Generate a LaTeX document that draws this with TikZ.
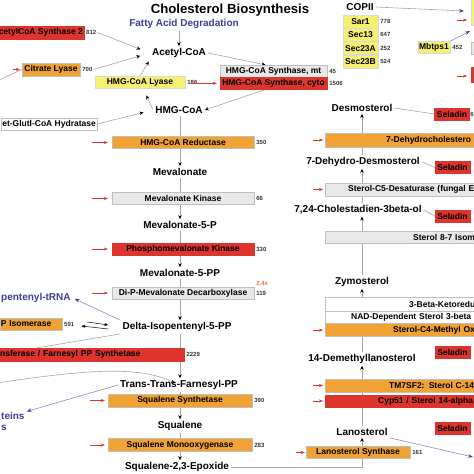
\documentclass[tikz,border=0pt]{standalone}
\usepackage{fontspec}
\setmainfont{Liberation Sans}
\usetikzlibrary{positioning,arrows.meta,backgrounds}
\definecolor{enzRed}{RGB}{221,52,46}
\definecolor{enzOrange}{RGB}{240,162,52}
\definecolor{enzYellow}{RGB}{246,240,112}
\definecolor{enzGray}{RGB}{232,232,232}
\definecolor{pathBlue}{RGB}{62,60,150}
\definecolor{lineGray}{RGB}{165,165,165}
\definecolor{foldOrange}{RGB}{226,120,60}
\begin{document}
\begin{tikzpicture}[x=1pt,y=-1pt]
        \tikzstyle{metaNode}=[font=\fontsize{10}{11}\selectfont\bfseries, inner sep=2pt]
        \tikzstyle{enzBox}=[font=\fontsize{8.5}{10}\selectfont\bfseries, minimum height=12pt, inner sep=1pt, line width=0.3pt]
        \tikzstyle{redBox}=[enzBox, fill=enzRed, draw=enzRed]
        \tikzstyle{orangeBox}=[enzBox, fill=enzOrange, draw=black!25]
        \tikzstyle{yellowBox}=[enzBox, fill=enzYellow, draw=black!15]
        \tikzstyle{grayBox}=[enzBox, fill=enzGray, draw=black!25]
        \tikzstyle{whiteBox}=[enzBox, fill=white, draw=black!25]
        \tikzstyle{countLabel}=[font=\fontsize{6}{7}\selectfont\bfseries, text=black!80, inner sep=1pt]
        \tikzstyle{mainCol}=[minimum width=142pt]
        \tikzstyle{rightCol}=[anchor=west, minimum width=170pt, text width=166pt, align=left]
        \tikzstyle{pathFlow}=[draw=lineGray, line width=0.6pt, -{Stealth[length=4pt,width=3.5pt,color=black]}]
        \tikzstyle{sideFlow}=[draw=lineGray, line width=0.6pt]
        \tikzstyle{blueFlow}=[draw=pathBlue!60, line width=0.6pt, -{Stealth[length=5pt,width=3.5pt,color=pathBlue]}]
        \tikzstyle{upReg}=[draw=enzRed, line width=0.5pt, -{Stealth[length=4pt,width=3pt]}]
    \useasboundingbox (0,0) rectangle (474,474);

    % left column
    \node[font=\fontsize{13.2}{15}\selectfont\bfseries] (title) at (230,10) {Cholesterol Biosynthesis};
    \node[metaNode, text=pathBlue] (fad) at (184,24) {Fatty Acid Degradation};
    \node[metaNode] (acetylcoa) at (179,53) {Acetyl-CoA};
    \node[metaNode] (hmgcoa) at (179,110) {HMG-CoA};
    \node[metaNode] (mev) at (180,172) {Mevalonate};
    \node[metaNode] (mev5p) at (180,225) {Mevalonate-5-P};
    \node[metaNode] (mev5pp) at (180,273) {Mevalonate-5-PP};
    \node[metaNode] (ipp) at (177,327) {Delta-Isopentenyl-5-PP};
    \node[metaNode] (fpp) at (179,385) {Trans-Trans-Farnesyl-PP};
    \node[metaNode] (squal) at (180,426) {Squalene};
    \node[metaNode] (epox) at (177,467) {Squalene-2,3-Epoxide};
    \node[metaNode, text=pathBlue, anchor=west] (trna) at (-1,298) {pentenyl-tRNA};
    \node[metaNode, text=pathBlue, anchor=north west, align=left, inner sep=0pt] (prot) at (1,412) {teins\\s};
    \coordinate (citrate) at (-3,81);
    \coordinate (gpp) at (-3,383);

    \node[redBox, anchor=east, minimum height=13pt] (acs2) at (84,32.5) {cetylCoA Synthase 2};
    \node[orangeBox, minimum width=58pt, minimum height=13pt] (citl) at (51,69.5) {Citrate Lyase};
    \node[yellowBox, minimum width=90pt] (hmgcl) at (140,82) {HMG-CoA Lyase};
    \node[grayBox, minimum width=107pt] (hmgcsmt) at (273.5,71) {HMG-CoA Synthase, mt};
    \node[redBox, minimum width=107pt, below=0pt of hmgcsmt] (hmgcscy) {HMG-CoA Synthase, cyto};
    \node[whiteBox, anchor=east] (hmgch) at (97,124) {et-Glutl-CoA Hydratase};
    \node[orangeBox, mainCol] (hmgcr) at (183,142.5) {HMG-CoA Reductase};
    \node[grayBox, mainCol] (mvk) at (183,198.5) {Mevalonate Kinase};
    \node[redBox, mainCol] (pmvk) at (183,249) {Phosphomevalonate Kinase};
    \node[grayBox, mainCol] (mvd) at (183,293) {Di-P-Mevalonate Decarboxylase};
    \node[orangeBox, anchor=east, text width=60pt, align=left] (idi) at (62,324) {P Isomerase};
    \node[redBox, anchor=west, text width=183pt, align=left, minimum height=13pt] (fpps) at (-1,354.5) {nsferase / Farnesyl PP Synthetase};
    \node[orangeBox, minimum width=144pt, minimum height=13pt] (sqs) at (180,400.5) {Squalene Synthetase};
    \node[orangeBox, minimum width=144pt, minimum height=13pt] (sqle) at (180,445) {Squalene Monooxygenase};

    \node[countLabel, right=1pt of acs2] (acs2N) {812};
    \node[countLabel, right=1pt of citl] (citlN) {700};
    \node[countLabel, right=1pt of hmgcl] (hmgclN) {186};
    \node[countLabel, right=1pt of hmgcsmt] (hmgcsmtN) {45};
    \node[countLabel, right=1pt of hmgcscy] (hmgcscyN) {1506};
    \node[countLabel, right=1pt of hmgcr] (hmgcrN) {350};
    \node[countLabel, right=1pt of mvk] (mvkN) {66};
    \node[countLabel, right=1pt of pmvk] (pmvkN) {330};
    \node[countLabel, right=1pt of mvd] (mvdN) {119};
    \node[countLabel, text=foldOrange, anchor=south west] (mvdFold) at ([yshift=3pt]mvdN.north west) {2.4x};
    \node[countLabel, right=1pt of idi] (idiN) {591};
    \node[countLabel, right=1pt of fpps] (fppsN) {2229};
    \node[countLabel, right=1pt of sqs] (sqsN) {390};
    \node[countLabel, right=1pt of sqle] (sqleN) {283};

    % right column
    \node[metaNode] (copii) at (360,7) {COPII};
    \node[yellowBox, minimum width=35pt, minimum height=13pt] (sar1) at (360.5,21.5) {Sar1};
    \node[yellowBox, minimum width=35pt, minimum height=13pt, below=0pt of sar1] (sec13) {Sec13};
    \node[yellowBox, minimum width=35pt, minimum height=13pt, below=0pt of sec13] (sec23a) {Sec23A};
    \node[yellowBox, minimum width=35pt, minimum height=13pt, below=0pt of sec23a] (sec23b) {Sec23B};
    \node[yellowBox, minimum width=32pt] (mbtps1) at (434,47.5) {Mbtps1};
    \node[yellowBox, anchor=west, minimum width=10pt, minimum height=26pt] (srebpA) at (471,12.5) {};
    \node[grayBox, anchor=west, minimum width=10pt, minimum height=12pt] (srebpB) at (471,48) {};
    \node[redBox, anchor=west, minimum width=10pt, minimum height=15pt] (srebpC) at (471,74.5) {};
    \coordinate (s1p) at (470,31);
    \coordinate (lanoOut) at (473,457);

    \node[metaNode] (desmo) at (362,108) {Desmosterol};
    \node[metaNode] (ddesmo) at (363,162) {7-Dehydro-Desmosterol};
    \node[metaNode] (c724) at (358,210) {7,24-Cholestadien-3beta-ol};
    \node[metaNode] (zymo) at (362,282) {Zymosterol};
    \node[metaNode] (demeth) at (362,359) {14-Demethyllanosterol};
    \node[metaNode] (lano) at (362,432) {Lanosterol};

    \node[redBox, minimum width=35pt] (sel1) at (452,114) {Seladin};
    \node[redBox, minimum width=35pt] (sel2) at (452.5,167.5) {Seladin};
    \node[redBox, minimum width=35pt] (sel3) at (452.5,216) {Seladin};
    \node[redBox, minimum width=35pt] (sel4) at (452.5,352) {Seladin};
    \node[redBox, minimum width=35pt] (sel5) at (452.5,428.5) {Seladin};

    \node[orangeBox, rightCol, minimum height=14pt] (dhcr7) at (325,140) {\hspace*{59pt}7-Dehydrocholestero};
    \node[grayBox, rightCol, minimum height=13pt] (c5d) at (325,189.5) {\hspace*{21pt}Sterol-C5-Desaturase (fungal E};
    \node[grayBox, rightCol] (isom) at (325,237.5) {\hspace*{86pt}Sterol 8-7 Isom};
    \node[whiteBox, rightCol, minimum height=14pt] (kr) at (325,304) {\hspace*{82pt}3-Beta-Ketoredu};
    \node[whiteBox, rightCol, below=0pt of kr.south west, anchor=north west] (nsdhl) {\hspace*{24pt}NAD-Dependent Sterol 3-beta};
    \node[orangeBox, rightCol, below=0pt of nsdhl.south west, anchor=north west, minimum height=13pt] (sc4mol) {\hspace*{66pt}Sterol-C4-Methyl Ox};
    \node[orangeBox, rightCol, minimum height=13pt] (tm7sf2) at (325,385.5) {\hspace*{62pt}TM7SF2: Sterol C-14};
    \node[redBox, rightCol] (cyp51) at (325,401) {\hspace*{51pt}Cyp51 / Sterol 14-alpha};
    \node[orangeBox, minimum width=104pt] (lss) at (358,452.5) {Lanosterol Synthase};

    \node[countLabel, right=1pt of sar1] (sar1N) {778};
    \node[countLabel, right=1pt of sec13] (sec13N) {647};
    \node[countLabel, right=1pt of sec23a] (sec23aN) {252};
    \node[countLabel, right=1pt of sec23b] (sec23bN) {524};
    \node[countLabel, right=1pt of mbtps1] (mbtps1N) {452};
    \node[countLabel, inner sep=0pt, right=0.5pt of sel1] (sel1N) {6};
    \node[countLabel, right=1pt of lss] (lssN) {161};

    \begin{pgfonlayer}{background}
    \draw[pathFlow] (fad.south -| acetylcoa) -- (acetylcoa.north);
    \draw[pathFlow, shorten >=10pt] (acs2N.east) -- (acetylcoa.west);
    \draw[sideFlow] (citrate) -- (citl.west);
    \draw[pathFlow, shorten >=10pt] (citlN.east) -- (acetylcoa.west);
    \draw[pathFlow, shorten >=2pt] (hmgcl.north) -- (acetylcoa.south west);
    \draw[pathFlow, shorten >=8pt] (hmgcoa.west) -- ([xshift=3pt]hmgcl.south);
    \draw[pathFlow, shorten >=10pt] (hmgch.east) -- (hmgcoa.west);
    \draw[pathFlow] (acetylcoa.east) -- ([xshift=-8pt]hmgcsmt.north);
    \draw[pathFlow] ([xshift=-8pt]hmgcscy.south) -- (hmgcoa.east);
    \foreach \a/\b in {hmgcoa/mev, mev/mev5p, mev5p/mev5pp, mev5pp/ipp, ipp/fpp, fpp/squal, squal/epox}
        \draw[pathFlow] (\a.south -| mev) -- (\b.north -| mev);
    \draw[sideFlow] ([xshift=38pt]fpps.north west) -- (ipp.south west);
    \draw[pathFlow] (gpp) .. controls (90,369) and (140,366) .. ([shift={(-4pt,-5pt)}]fpp.north);
    \draw[blueFlow, shorten >=2pt] (ipp.north west) -- (trna.east);
    \draw[blueFlow, shorten >=2pt] (fpp.west) -- (prot.north east);
    \draw[-{Stealth[length=4pt,width=3pt]}, line width=0.5pt] ([shift={(12pt,2pt)}]idiN.east) -- ([shift={(-12pt,2pt)}]ipp.west);
    \draw[-{Stealth[length=4pt,width=3pt]}, line width=0.5pt] ([shift={(-12pt,-2pt)}]ipp.west) -- ([shift={(6pt,-2pt)}]idiN.east);
    \draw[pathFlow] (epox.east) -| (lano.south);
    \foreach \a/\b in {lano/demeth, demeth/zymo, zymo/c724, c724/ddesmo, ddesmo/desmo}
        \draw[pathFlow] (\a.north -| lano) -- (\b.south -| lano);
    \draw[sideFlow] (desmo.east) -- (sel1.west);
    \draw[sideFlow] (ddesmo.east) -- (sel2.west);
    \draw[sideFlow] (c724.east) -- (sel3.west);
    \draw[sideFlow, -{Stealth[length=5pt,width=3.5pt,color=pathBlue]}] (copii.east) -- ([shift={(-7pt,1.5pt)}]srebpA.west);
    \draw[blueFlow] (mbtps1.north east) -- (s1p);
    \draw[blueFlow] (lano.south east) -- (lanoOut);
    \end{pgfonlayer}

    % red marks on the enzymes
    \draw[upReg] ([xshift=-9pt]citl.west) -- ([xshift=-2pt]citl.west);
    \draw[upReg] ([xshift=-27pt]hmgcscy.west) -- ([xshift=-3pt]hmgcscy.west);
    \foreach \b in {hmgcr, mvk, pmvk, mvd}
        \draw[upReg] ([xshift=-20pt]\b.west) -- ([xshift=-4pt]\b.west);
    \foreach \b in {sqs, sqle}
        \draw[upReg] ([xshift=-18pt]\b.west) -- ([xshift=-3pt]\b.west);
    \foreach \b in {dhcr7, c5d, sc4mol, tm7sf2, cyp51}
        \draw[upReg] ([xshift=-12pt]\b.west) -- ([xshift=-2pt]\b.west);
    \draw[upReg] ([xshift=-10pt]lss.west) -- ([xshift=-1pt]lss.west);
    \draw[upReg] ([shift={(-14pt,-7.5pt)}]srebpA.west) -- ([shift={(-4pt,-7.5pt)}]srebpA.west);
    \draw[upReg] ([shift={(-14pt,-1.5pt)}]srebpC.west) -- ([shift={(-4pt,-1.5pt)}]srebpC.west);
\end{tikzpicture}
\end{document}
